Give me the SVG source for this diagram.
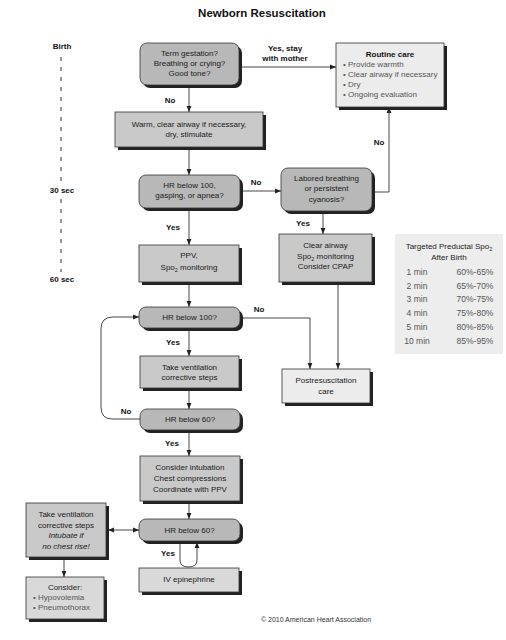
<svg xmlns="http://www.w3.org/2000/svg" width="506" height="640" viewBox="0 0 506 640">
<style>
text{font-family:"Liberation Sans",Arial,sans-serif;font-size:8px;fill:#1a1a1a;text-anchor:middle}
.title{font-size:11.5px;font-weight:bold;fill:#111}
.lbl{font-weight:bold;fill:#111}
.bul{text-anchor:start;fill:#555}
.it{font-style:italic}
.tbl{fill:#555;font-size:8.5px}
.dec{fill:#b8b8b8;stroke:#333;stroke-width:0.8}
.act{fill:#c9c9c9;stroke:#333;stroke-width:0.8}
.lt{fill:#ececec;stroke:#333;stroke-width:0.8}
.lt2{fill:#d9d9d9;stroke:#333;stroke-width:0.8}
.sh{fill:#222}
.con{fill:none;stroke:#333;stroke-width:0.9}
</style>
<defs>
<marker id="ah" viewBox="0 0 10 10" refX="10" refY="5" markerWidth="6" markerHeight="6" orient="auto-start-reverse" markerUnits="userSpaceOnUse">
<path d="M0,1 L10,5 L0,9 z" fill="#222"/>
</marker>
</defs>
<rect width="506" height="640" fill="#fff"/>
<text class="title" x="262" y="17">Newborn Resuscitation</text>

<g id="timeline">
<text class="lbl" x="62" y="49">Birth</text>
<line x1="61" y1="57" x2="61" y2="183" stroke="#333" stroke-width="1" stroke-dasharray="4 6"/>
<text class="lbl" x="62" y="193">30 sec</text>
<line x1="61" y1="199" x2="61" y2="272" stroke="#333" stroke-width="1" stroke-dasharray="4 6"/>
<text class="lbl" x="62" y="282">60 sec</text>
</g>

<g id="connectors">
<line class="con" x1="239" y1="67" x2="336" y2="67" marker-end="url(#ah)"/>
<line class="con" x1="189" y1="85" x2="189" y2="112" marker-end="url(#ah)"/>
<line class="con" x1="189" y1="147" x2="189" y2="175" marker-end="url(#ah)"/>
<line class="con" x1="240" y1="191" x2="281" y2="191" marker-end="url(#ah)"/>
<polyline class="con" points="372,192 389,192 389,107" marker-end="url(#ah)"/>
<line class="con" x1="323" y1="211" x2="323" y2="234" marker-end="url(#ah)"/>
<line class="con" x1="189" y1="208" x2="189" y2="245" marker-end="url(#ah)"/>
<line class="con" x1="189" y1="282" x2="189" y2="307" marker-end="url(#ah)"/>
<polyline class="con" points="240,318 310,318 310,369" marker-end="url(#ah)"/>
<line class="con" x1="338" y1="282" x2="338" y2="369" marker-end="url(#ah)"/>
<line class="con" x1="189" y1="328" x2="189" y2="356" marker-end="url(#ah)"/>
<line class="con" x1="189" y1="388" x2="189" y2="409" marker-end="url(#ah)"/>
<path class="con" d="M140,419 L112,419 Q101,419 101,407 L101,329 Q101,317 113,317 L139,317" marker-end="url(#ah)"/>
<line class="con" x1="189" y1="430" x2="189" y2="456" marker-end="url(#ah)"/>
<line class="con" x1="189" y1="501" x2="189" y2="519" marker-end="url(#ah)"/>
<line class="con" x1="108" y1="530" x2="139" y2="530" marker-start="url(#ah)" marker-end="url(#ah)"/>
<line class="con" x1="64" y1="557" x2="64" y2="577" marker-end="url(#ah)"/>
<path class="con" d="M180,542 L180,560 Q180,567 188.5,567 Q197,567 197,560 L197,542" marker-end="url(#ah)"/>
<text class="lbl" x="285" y="51">Yes, stay</text>
<text class="lbl" x="285" y="61">with mother</text>
<text class="lbl" x="170" y="103">No</text>
<text class="lbl" x="256" y="185">No</text>
<text class="lbl" x="379" y="145">No</text>
<text class="lbl" x="303" y="226">Yes</text>
<text class="lbl" x="173" y="230">Yes</text>
<text class="lbl" x="259" y="312">No</text>
<text class="lbl" x="173" y="345">Yes</text>
<text class="lbl" x="126" y="414">No</text>
<text class="lbl" x="172" y="446">Yes</text>
<text class="lbl" x="168" y="556">Yes</text>
</g>

<g id="n-term">
<rect class="sh" x="143" y="46" width="99" height="42" rx="7"/>
<rect class="dec" x="140" y="43" width="99" height="42" rx="7"/>
<text x="189.5" y="56">Term gestation?</text>
<text x="189.5" y="66">Breathing or crying?</text>
<text x="189.5" y="76">Good tone?</text>
</g>

<g id="n-routine">
<rect class="sh" x="339" y="46" width="108" height="64"/>
<rect class="lt" x="336" y="43" width="108" height="64"/>
<text class="lbl" x="390" y="57">Routine care</text>
<text class="bul" x="343" y="67">•  Provide warmth</text>
<text class="bul" x="343" y="77">•  Clear airway if necessary</text>
<text class="bul" x="343" y="87">•  Dry</text>
<text class="bul" x="343" y="97">•  Ongoing evaluation</text>
</g>

<g id="n-warm">
<rect class="sh" x="118" y="115" width="148" height="35"/>
<rect class="act" x="115" y="112" width="148" height="35"/>
<text x="189" y="127">Warm, clear airway if necessary,</text>
<text x="189" y="137">dry, stimulate</text>
</g>

<g id="n-hr100gasp">
<rect class="sh" x="142" y="178" width="101" height="33" rx="7"/>
<rect class="dec" x="139" y="175" width="101" height="33" rx="7"/>
<text x="189.5" y="188">HR below 100,</text>
<text x="189.5" y="198">gasping, or apnea?</text>
</g>

<g id="n-labored">
<rect class="sh" x="284" y="171" width="91" height="43" rx="7"/>
<rect class="dec" x="281" y="168" width="91" height="43" rx="7"/>
<text x="326.5" y="181">Labored breathing</text>
<text x="326.5" y="191">or persistent</text>
<text x="326.5" y="202">cyanosis?</text>
</g>

<g id="n-clear">
<rect class="sh" x="282" y="237" width="93" height="48"/>
<rect class="act" x="279" y="234" width="93" height="48"/>
<text x="325.5" y="248">Clear airway</text>
<text x="325.5" y="259">Spo<tspan font-size="5.5" dy="2">2</tspan><tspan dy="-2"> monitoring</tspan></text>
<text x="325.5" y="269">Consider CPAP</text>
</g>

<g id="n-ppv">
<rect class="sh" x="142" y="248" width="100" height="37"/>
<rect class="act" x="139" y="245" width="100" height="37"/>
<text x="189" y="258">PPV,</text>
<text x="189" y="270">Spo<tspan font-size="5.5" dy="2">2</tspan><tspan dy="-2"> monitoring</tspan></text>
</g>

<g id="n-hr100">
<rect class="sh" x="142" y="310" width="101" height="21" rx="7"/>
<rect class="dec" x="139" y="307" width="101" height="21" rx="7"/>
<text x="189.5" y="320">HR below 100?</text>
</g>

<g id="n-postresus">
<rect class="sh" x="285" y="372" width="88" height="34"/>
<rect class="lt" x="282" y="369" width="88" height="34"/>
<text x="326" y="383">Postresuscitation</text>
<text x="326" y="394">care</text>
</g>

<g id="n-takevent1">
<rect class="sh" x="143" y="359" width="99" height="32"/>
<rect class="act" x="140" y="356" width="99" height="32"/>
<text x="189.5" y="370">Take ventilation</text>
<text x="189.5" y="380">corrective steps</text>
</g>

<g id="n-hr60a">
<rect class="sh" x="143" y="412" width="100" height="21" rx="7"/>
<rect class="dec" x="140" y="409" width="100" height="21" rx="7"/>
<text x="190" y="422">HR below 60?</text>
</g>

<g id="n-intubation">
<rect class="sh" x="143" y="459" width="100" height="45"/>
<rect class="act" x="140" y="456" width="100" height="45"/>
<text x="190" y="470">Consider intubation</text>
<text x="190" y="481">Chest compressions</text>
<text x="190" y="492">Coordinate with PPV</text>
</g>

<g id="n-hr60b">
<rect class="sh" x="142" y="522" width="101" height="22" rx="7"/>
<rect class="dec" x="139" y="519" width="101" height="22" rx="7"/>
<text x="189.5" y="533">HR below 60?</text>
</g>

<g id="n-takevent2">
<rect class="sh" x="29" y="506" width="80" height="54"/>
<rect class="act" x="26" y="503" width="80" height="54"/>
<text x="66" y="517">Take ventilation</text>
<text x="66" y="528">corrective steps</text>
<text class="it" x="66" y="538">Intubate if</text>
<text class="it" x="66" y="549">no chest rise!</text>
</g>

<g id="n-consider">
<rect class="sh" x="29" y="580" width="78" height="42"/>
<rect class="lt2" x="26" y="577" width="78" height="42"/>
<text x="65" y="590">Consider:</text>
<text class="bul" x="33" y="600">•  Hypovolemia</text>
<text class="bul" x="33" y="610">•  Pneumothorax</text>
</g>

<g id="n-iv">
<rect class="sh" x="142" y="571" width="100" height="24"/>
<rect class="lt2" x="139" y="568" width="100" height="24"/>
<text x="189" y="582">IV epinephrine</text>
</g>

<g id="spo2-table">
<rect x="395" y="234" width="108" height="120" fill="#ededed"/>
<text x="449" y="249">Targeted Preductal Spo<tspan font-size="5.5" dy="2">2</tspan></text>
<text x="449" y="260">After Birth</text>
<text class="tbl" x="417" y="275">1 min</text><text class="tbl" x="475" y="275">60%-65%</text>
<text class="tbl" x="417" y="289">2 min</text><text class="tbl" x="475" y="289">65%-70%</text>
<text class="tbl" x="417" y="302">3 min</text><text class="tbl" x="475" y="302">70%-75%</text>
<text class="tbl" x="417" y="316">4 min</text><text class="tbl" x="475" y="316">75%-80%</text>
<text class="tbl" x="417" y="330">5 min</text><text class="tbl" x="475" y="330">80%-85%</text>
<text class="tbl" x="417" y="344">10 min</text><text class="tbl" x="475" y="344">85%-95%</text>
</g>

<text x="316" y="622" style="font-size:7px;fill:#333">© 2010 American Heart Association</text>
</svg>
